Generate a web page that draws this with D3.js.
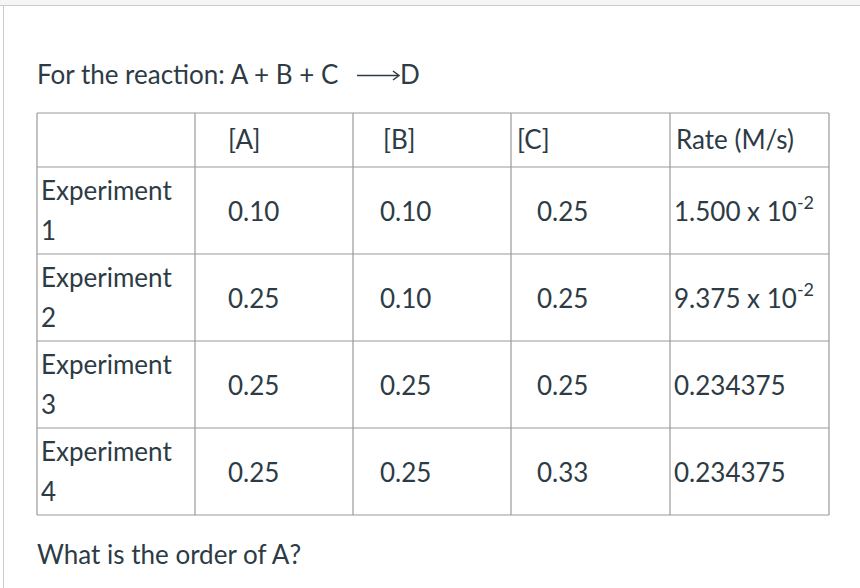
<!DOCTYPE html>
<html><head><meta charset="utf-8">
<script src="https://cdn.jsdelivr.net/npm/d3@7"></script>
<style>body{margin:0;background:#fff}text{font-family:Lato,sans-serif;fill:#2d3b45}</style>
</head><body>
<svg id="tbl" width="860" height="588"></svg>
<script>
var headers = ["", "[A]", "[B]", "[C]", "Rate (M/s)"]
var experiments = ["1", "2", "3", "4"]
var concA = ["0.10", "0.25", "0.25", "0.25"]
var concB = ["0.10", "0.10", "0.25", "0.25"]
var concC = ["0.25", "0.25", "0.25", "0.33"]
var rates = [["1.500 x 10", "-2"], ["9.375 x 10", "-2"], ["0.234375", ""], ["0.234375", ""]]

var fs = 26
var svg = d3.select("#tbl")
var colEdges = [37, 195, 353, 511, 670, 829]
var textX = [41, 228, 380, 537, 674]
var headX = [41, 228, 383, 517, 676]
var rowY = d3.scaleLinear().domain([0, 4]).range([167, 515])

// outer frame
svg.append("rect").attr("x", 0).attr("y", 0).attr("width", 860).attr("height", 5).attr("fill", "#f5f5f5")
svg.append("line").attr("x1", 0).attr("x2", 860).attr("y1", 5.5).attr("y2", 5.5).attr("stroke", "#c7cdd1")
svg.append("line").attr("x1", 3.5).attr("x2", 3.5).attr("y1", 5).attr("y2", 588).attr("stroke", "#c7cdd1")

svg.append("text").attr("x", 37).attr("y", 84).attr("font-size", fs)
    .text("For the reaction:  A + B + C")
// long arrow
svg.append("line").attr("x1", 357).attr("x2", 398).attr("y1", 75.5).attr("y2", 75.5)
    .attr("stroke", "#2d3b45").attr("stroke-width", 1.5)
svg.append("path").attr("d", "M393,71 L399,75.5 L393,80").attr("fill", "none")
    .attr("stroke", "#2d3b45").attr("stroke-width", 1.5)
svg.append("text").attr("x", 400).attr("y", 84).attr("font-size", fs).text("D")

var g = svg.append("g").attr("stroke", "#9a9a9a").attr("stroke-width", 1.2)
;[113].concat(d3.range(5).map(rowY)).forEach(function (y) {
    g.append("line").attr("x1", 37).attr("x2", 829).attr("y1", y).attr("y2", y)
})
colEdges.forEach(function (x) {
    g.append("line").attr("x1", x).attr("x2", x).attr("y1", 113).attr("y2", 515)
})

headers.forEach(function (h, i) {
    svg.append("text").attr("x", headX[i]).attr("y", 149).attr("font-size", fs).text(h)
})

experiments.forEach(function (e, i) {
    var y0 = rowY(i)
    svg.append("text").attr("x", textX[0]).attr("y", y0 + 33).attr("font-size", fs).text("Experiment")
    svg.append("text").attr("x", textX[0]).attr("y", y0 + 73).attr("font-size", fs).text(e)
    ;[concA[i], concB[i], concC[i]].forEach(function (v, j) {
        svg.append("text").attr("x", textX[j + 1]).attr("y", y0 + 54).attr("font-size", fs).text(v)
    })
    var t = svg.append("text").attr("x", textX[4]).attr("y", y0 + 54).attr("font-size", fs)
    t.append("tspan").text(rates[i][0])
    if (rates[i][1]) t.append("tspan").attr("dy", -12).attr("font-size", 18).text(rates[i][1])
})

svg.append("text").attr("x", 37).attr("y", 564).attr("font-size", fs).text("What is the order of A?")
</script>
</body></html>
